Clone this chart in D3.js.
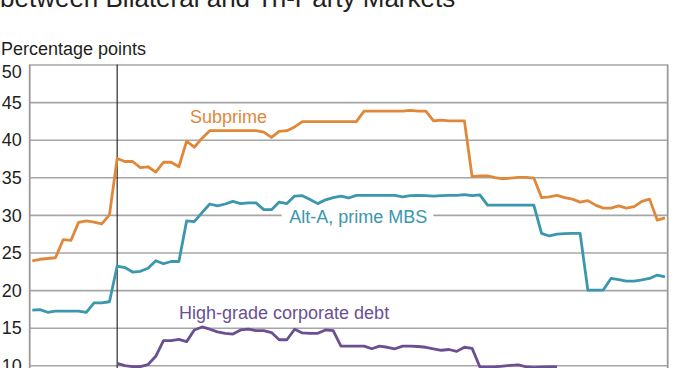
<!DOCTYPE html>
<html lang='en'>
<head>
<meta charset="utf-8">
<title>Haircut differences</title>
<script type="text/javascript" src="https://cdn.jsdelivr.net/npm/d3@7"></script>
<style>
	body { margin: 0; background: #fff; }
	text { font-family: "Liberation Sans", Arial, Helvetica, sans-serif; }
</style>
</head>
<body>
<div id="chart"></div>
<script type="text/javascript">
// values, one per week
var yTicks = [0, 5, 10, 15, 20, 25, 30, 35, 40, 45, 50];
var eventWeek = 11;

var subprime = [23.9, 24.1, 24.2, 24.3, 26.7, 26.6, 29.0, 29.2, 29.05, 28.8, 30.0,
	37.5, 37.1, 37.1, 36.3, 36.4, 35.7, 37.0, 37.0, 36.4, 39.8,
	39.0, 40.2, 41.2, 41.2, 41.2, 41.2, 41.2, 41.2, 41.2, 41.0,
	40.3, 41.1, 41.2, 41.7, 42.4, 42.4, 42.4, 42.4, 42.4, 42.4,
	42.4, 42.4, 43.8, 43.8, 43.8, 43.8, 43.8, 43.8, 43.9, 43.8,
	43.8, 42.5, 42.6, 42.5, 42.5, 42.5, 35.1, 35.2, 35.2, 34.95,
	34.8, 34.9, 35.0, 35.0, 34.9, 32.3, 32.4, 32.6, 32.3, 32.1,
	31.7, 31.9, 31.3, 30.9, 30.9, 31.2, 30.9, 31.1, 31.8, 32.1,
	29.3, 29.6];

var altA = [17.35, 17.4, 17.05, 17.2, 17.2, 17.2, 17.2, 17.05, 18.3, 18.3, 18.45,
	23.2, 23.0, 22.4, 22.5, 22.9, 23.9, 23.5, 23.8, 23.8, 29.2,
	29.1, 30.3, 31.45, 31.2, 31.45, 31.8, 31.5, 31.6, 31.6, 30.7,
	30.7, 31.7, 31.5, 32.5, 32.55, 32.05, 31.5, 32.0, 32.3, 32.5,
	32.25, 32.6, 32.6, 32.6, 32.6, 32.6, 32.6, 32.4, 32.55, 32.6,
	32.55, 32.5, 32.55, 32.6, 32.6, 32.7, 32.55, 32.65, 31.3, 31.3,
	31.3, 31.3, 31.3, 31.3, 31.3, 27.55, 27.2, 27.45, 27.5, 27.55,
	27.55, 20.0, 20.0, 20.0, 21.55, 21.4, 21.2, 21.2, 21.35, 21.55,
	22.0, 21.75];

var corporate = [null, null, null, null, null, null, null, null, null, null, null,
	10.25, 9.95, 9.82, 9.82, 10.1, 11.2, 13.27, 13.27, 13.45, 13.15,
	14.7, 15.1, 14.8, 14.45, 14.25, 14.15, 14.7, 14.8, 14.6, 14.6,
	14.35, 13.4, 13.4, 14.8, 14.3, 14.25, 14.25, 14.7, 14.6, 12.55,
	12.55, 12.55, 12.55, 12.2, 12.55, 12.4, 12.2, 12.55, 12.55, 12.5,
	12.4, 12.2, 12.0, 12.1, 11.85, 12.4, 12.25, 9.8, 9.75, 9.8,
	9.9, 10.0, 10.05, 9.8, 9.7, 9.75, 9.8, 9.8, null, null,
	null, null, null, null, null, null, null, null, null, null,
	null, null];

var w = 700;
var h = 368;
var frameLeft = 29.7;
var frameRight = 667.7;
var plotTop = 64.5;

var xScale = d3.scaleLinear()
	.domain([0, subprime.length - 1])
	.range([32.3, 665]);

var yScale = d3.scaleLinear()
	.domain([0, 50])
	.range([plotTop + 50 * 7.52, plotTop]);

var svg = d3.select("#chart").append("svg")
	.attr("width", w)
	.attr("height", h);

// title (cut off at the top like the original)
svg.append("text")
	.attr("x", 0)
	.attr("y", 6.5)
	.attr("font-size", 26)
	.attr("fill", "#231f20")
	.text("between Bilateral and Tri-Party Markets");

svg.append("text")
	.attr("x", 1)
	.attr("y", 55)
	.attr("font-size", 18)
	.attr("fill", "#231f20")
	.text("Percentage points");

var yAxis = d3.axisLeft(yScale)
	.tickValues(yTicks)
	.tickSize(-(frameRight - frameLeft))
	.tickPadding(8)
	.tickFormat(d3.format("d"));

var gy = svg.append("g")
	.attr("transform", "translate(" + frameLeft + ",0)")
	.call(yAxis);

gy.select(".domain").remove();
gy.selectAll(".tick line")
	.attr("stroke", "#a6a6a6")
	.attr("stroke-width", 1.6);
gy.selectAll(".tick text")
	.attr("font-size", 18)
	.attr("font-family", "Liberation Sans, Arial, sans-serif")
	.attr("fill", "#231f20")
	.attr("dy", function(d) { return d == 50 ? "0.72em" : "0.34em"; });

// frame sides
svg.append("line")
	.attr("x1", frameLeft).attr("x2", frameLeft)
	.attr("y1", plotTop).attr("y2", h)
	.attr("stroke", "#9a9a9a")
	.attr("stroke-width", 1.8);
svg.append("line")
	.attr("x1", frameRight).attr("x2", frameRight)
	.attr("y1", plotTop).attr("y2", h)
	.attr("stroke", "#9a9a9a")
	.attr("stroke-width", 1.8);

// event marker
svg.append("line")
	.attr("x1", xScale(eventWeek)).attr("x2", xScale(eventWeek))
	.attr("y1", plotTop).attr("y2", h)
	.attr("stroke", "#2a2a2a")
	.attr("stroke-width", 1.2);

var line = d3.line()
	.defined(function(d) { return d != null; })
	.x(function(d, i) { return xScale(i); })
	.y(function(d) { return yScale(d); });

var series = [
	{ values: subprime, color: "#e0883a" },
	{ values: altA, color: "#3a97ad" },
	{ values: corporate, color: "#6a4f93" }
];

svg.selectAll(".series")
	.data(series)
	.enter()
	.append("path")
	.attr("class", "series")
	.attr("d", function(d) { return line(d.values); })
	.attr("fill", "none")
	.attr("stroke", function(d) { return d.color; })
	.attr("stroke-width", 2.8)
	.attr("stroke-linejoin", "round");

// labels
svg.append("text")
	.attr("x", 190)
	.attr("y", 123)
	.attr("font-size", 18)
	.attr("fill", "#e0883a")
	.text("Subprime");

svg.append("rect")
	.attr("x", 281.7)
	.attr("y", 207)
	.attr("width", 151.6)
	.attr("height", 17)
	.attr("fill", "#fff");

svg.append("text")
	.attr("x", 289.3)
	.attr("y", 222.5)
	.attr("font-size", 18)
	.attr("fill", "#3a97ad")
	.text("Alt-A, prime MBS");

svg.append("text")
	.attr("x", 179)
	.attr("y", 319)
	.attr("font-size", 18)
	.attr("fill", "#6a4f93")
	.text("High-grade corporate debt");
</script>
</body>
</html>
